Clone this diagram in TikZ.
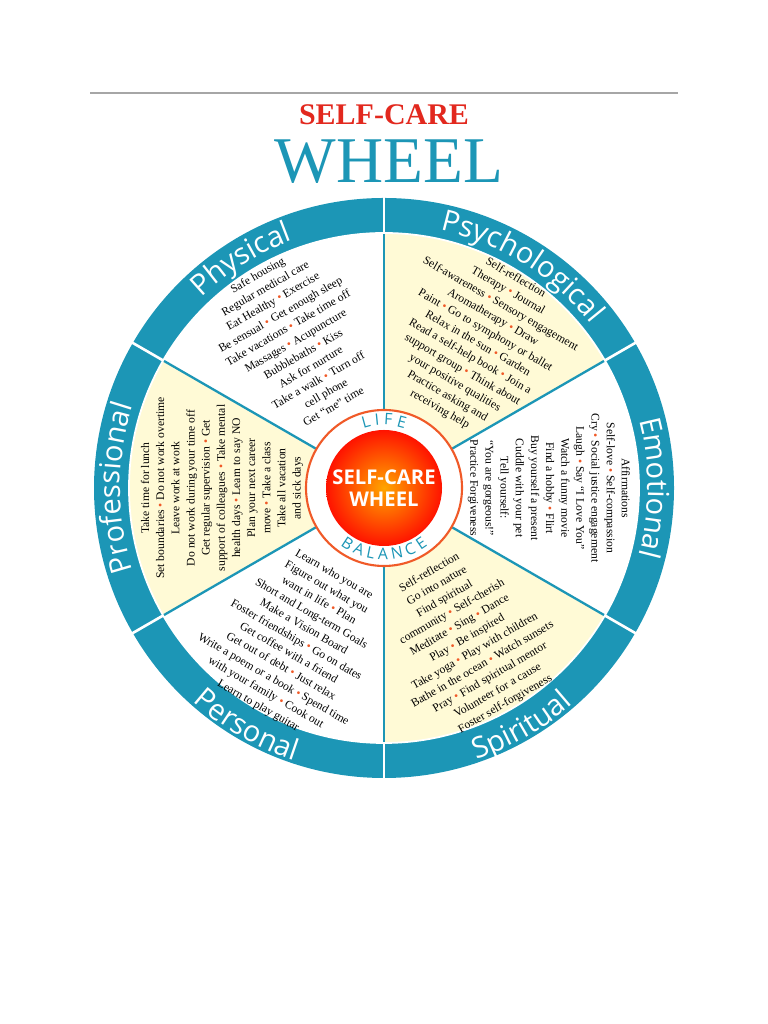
\documentclass[tikz,border=0pt]{standalone}
\usepackage{fontspec}
\setmainfont{Liberation Serif}
\newfontfamily\bandfont{Open Sans}
\usetikzlibrary{positioning,calc,decorations.text}
\definecolor{wheelteal}{RGB}{28,150,182}
\definecolor{wheelcream}{RGB}{255,250,214}
\definecolor{titlered}{RGB}{226,40,30}
\definecolor{dotorange}{RGB}{240,90,40}
\newcommand{\dt}{\textcolor{dotorange}{\textbullet}}

\begin{document}
\begin{tikzpicture}[
    x=0.5672pt, y=0.5672pt,
    seg/.style={align=center, font=\fontsize{6.6}{8.6}\selectfont, inner sep=0pt},
    band/.style={decorate, decoration={text along path, text align=center, text={|\color{white}\fontsize{16.5}{16.5}\bandfont|#1}}},
    ring/.style={decorate, decoration={text along path, text align=center, text={|\color{wheelteal}\fontsize{9}{9}\bandfont|#1}}}
]
    \useasboundingbox (0,0) rectangle (768,1024);
    \coordinate (C) at (384,536);
    \coordinate (ruleL) at (90,931);
    \coordinate (ruleR) at (678,931);
    \draw[gray!70, line width=0.6pt] (ruleL) -- (ruleR);
    % title
    \node[text=titlered, font=\fontsize{17}{17}\selectfont\bfseries] (title1) at (384,909) {SELF-CARE};
    \node[text=wheelteal, font=\fontsize{37}{37}\selectfont] (title2) at (389,862) {WHEEL};
    % wheel
    \fill[wheelteal] (C) circle[radius=290];
    \fill[white] (C) circle[radius=255];
    \foreach \a in {30,150,270}
        \fill[wheelcream] (C) -- ([shift={(\a:255)}]C) arc[start angle=\a, end angle=\a+60, radius=255] -- cycle;
    \foreach \a in {30,90,...,330} {
        \draw[wheelteal, line width=1.3pt] (C) -- ([shift={(\a:255)}]C);
        \draw[white, line width=1.5pt] ([shift={(\a:255)}]C) -- ([shift={(\a:291)}]C);
    }
    \draw[white, line width=1pt] (C) circle[radius=255];
    % centre
    \fill[white] (C) circle[radius=78];
    \draw[dotorange, line width=1.2pt] (C) circle[radius=78];
    \shade[inner color=orange!70!yellow, outer color=red!85!orange] (C) circle[radius=58];
    \node[text=white, font=\fontsize{11.5}{12.5}\selectfont\bandfont\bfseries, align=center] (hub) at (C) {SELF-CARE\\WHEEL};
    \path[ring={L I F E}] ([shift={(120:63)}]C) arc[start angle=120, end angle=60, radius=63];
    \path[ring={B A L A N C E}] ([shift={(228:72)}]C) arc[start angle=228, end angle=312, radius=72];
    % band labels
    \path[band={Physical}] ([shift={(147:264)}]C) arc[start angle=147, end angle=97, radius=264];
    \path[band={Psychological}] ([shift={(88:264)}]C) arc[start angle=88, end angle=28, radius=264];
    \path[band={Emotional}] ([shift={(30:264)}]C) arc[start angle=30, end angle=-30, radius=264];
    \path[band={Professional}] ([shift={(210:264)}]C) arc[start angle=210, end angle=150, radius=264];
    \path[band={Personal}] ([shift={(212:287)}]C) arc[start angle=212, end angle=268, radius=287];
    \path[band={Spiritual}] ([shift={(272:287)}]C) arc[start angle=272, end angle=328, radius=287];
    % segment texts
    \node[seg, rotate=30] (physical) at ([shift={(121:172)}]C) {Safe housing\\Regular medical care\\Eat Healthy \dt{} Exercise\\Be sensual \dt{} Get enough sleep\\Take vacations \dt{} Take time off\\Massages \dt{} Acupuncture\\Bubblebaths \dt{} Kiss\\Ask for nurture\\Take a walk \dt{} Turn off\\cell phone\\Get ``me'' time};
    \node[seg, rotate=-30] (psych) at ([shift={(57:172)}]C) {Self-reflection\\Therapy \dt{} Journal\\Self-awareness \dt{} Sensory engagement\\Aromatherapy \dt{} Draw\\Paint \dt{} Go to symphony or ballet\\Relax in the sun \dt{} Garden\\Read a self-help book \dt{} Join a\\support group \dt{} Think about\\your positive qualities\\Practice asking and\\receiving help};
    \node[seg, rotate=-90] (emotional) at ([shift={(0:165)}]C) {Affirmations\\Self-love \dt{} Self-compassion\\Cry \dt{} Social justice engagement\\Laugh \dt{} Say ``I Love You''\\Watch a funny movie\\Find a hobby \dt{} Flirt\\Buy yourself a present\\Cuddle with your pet\\Tell yourself:\\``You are gorgeous!''\\Practice Forgiveness};
    \node[seg, rotate=30] (spiritual) at ([shift={(-61:172)}]C) {Self-reflection\\Go into nature\\Find spiritual\\community \dt{} Self-cherish\\Meditate \dt{} Sing \dt{} Dance\\Play \dt{} Be inspired\\Take yoga \dt{} Play with children\\Bathe in the ocean \dt{} Watch sunsets\\Pray \dt{} Find spiritual mentor\\Volunteer for a cause\\Foster self-forgiveness};
    \node[seg, rotate=-30] (personal) at ([shift={(-120:176)}]C) {Learn who you are\\Figure out what you\\want in life \dt{} Plan\\Short and Long-term Goals\\Make a Vision Board\\Foster friendships \dt{} Go on dates\\Get coffee with a friend\\Get out of debt \dt{} Just relax\\Write a poem or a book \dt{} Spend time\\with your family \dt{} Cook out\\Learn to play guitar};
    \node[seg, rotate=90] (professional) at ([shift={(180:162)}]C) {Take time for lunch\\Set boundaries \dt{} Do not work overtime\\Leave work at work\\Do not work during your time off\\Get regular supervision \dt{} Get\\support of colleagues \dt{} Take mental\\health days \dt{} Learn to say NO\\Plan your next career\\move \dt{} Take a class\\Take all vacation\\and sick days};
\end{tikzpicture}
\end{document}
